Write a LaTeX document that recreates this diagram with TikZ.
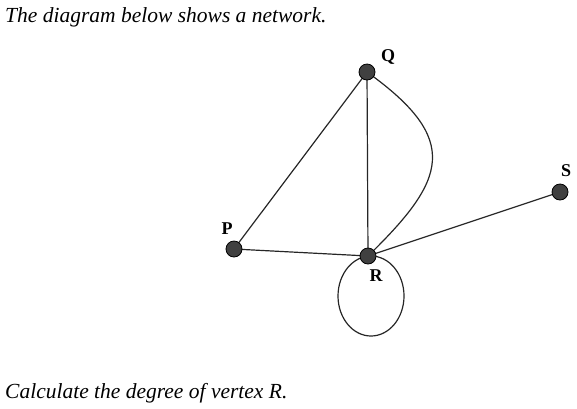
\documentclass[tikz,border=0pt]{standalone}
\usepackage{fontspec}
\setmainfont{Liberation Serif}
\usetikzlibrary{positioning,backgrounds}

\tikzset{
  vertex/.style={circle, draw=black, fill=black!75, inner sep=0pt, minimum size=16pt, line width=0.8pt},
  lbl/.style={font=\fontsize{18}{20}\selectfont\bfseries, inner sep=0pt},
  caption/.style={font=\fontsize{21.5}{25}\selectfont\itshape, anchor=base west, inner sep=0pt},
  edge/.style={line width=1.2pt, black!85}
}

\begin{document}
\begin{tikzpicture}[x=1pt, y=-1pt]
    \useasboundingbox (0,0) rectangle (577,408);

    % textos
    \node[caption] (top) at (5,22) {The diagram below shows a network.};
    \node[caption] (bottom) at (5,398) {Calculate the degree of vertex R.};

    % vertices
    \node[vertex] (Q) at (367,72) {};
    \node[vertex] (P) at (234,249) {};
    \node[vertex] (R) at (368,256) {};
    \node[vertex] (S) at (560,192) {};

    % rotulos
    \node[lbl] at ([shift={(21,-15)}]Q.center) {Q};
    \node[lbl] at ([shift={(-7,-20)}]P.center) {P};
    \node[lbl] at ([shift={(8,20)}]R.center) {R};
    \node[lbl] at ([shift={(6,-21)}]S.center) {S};

    % arestas
    \begin{scope}[on background layer]
        \draw[edge] (P.center) -- (Q.center);
        \draw[edge] (Q.center) -- (R.center);
        \draw[edge] (P.center) -- (R.center);
        \draw[edge] (R.center) -- (S.center);
        \draw[edge] (Q.center) .. controls (462,140) and (446,180) .. (R.center);
        % laco
        \draw[edge] ([shift={(3,40)}]R.center) ellipse [x radius=33pt, y radius=40pt];
    \end{scope}

\end{tikzpicture}
\end{document}
